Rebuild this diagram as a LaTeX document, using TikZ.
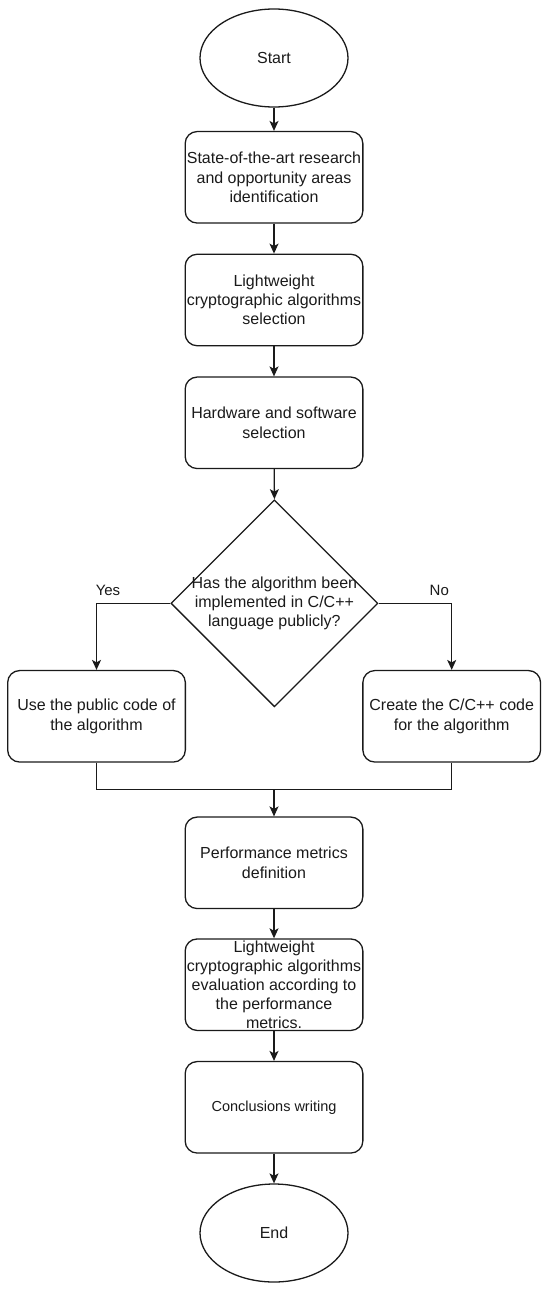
\documentclass[tikz,border=0pt]{standalone}
\usepackage{fontspec}
\setmainfont{Liberation Sans}
\usetikzlibrary{shapes.geometric,arrows.meta}
\definecolor{ln}{HTML}{1A1A1A}
\tikzset{
  base/.style={draw=ln, line width=1.3pt, inner sep=0pt, align=center, text=ln,
    font=\fontsize{16}{19.2}\selectfont},
  procbox/.style={base, rectangle, rounded corners=12pt, minimum width=177.7pt, minimum height=91.5pt},
  term/.style={base, ellipse, minimum width=148pt, minimum height=98pt},
  decis/.style={base, diamond, minimum width=207pt, minimum height=207pt},
  plain/.style={inner sep=0pt, align=center, text=ln, font=\fontsize{16}{19}\selectfont},
  conn/.style={draw=ln, line width=1.3pt},
  arr/.style={conn, -{Stealth[length=10pt,width=9pt,inset=2.5pt]}},
}
\begin{document}
\begin{tikzpicture}[x=1pt,y=-1pt]
\useasboundingbox (0,0) rectangle (550,1290);
\node[term] (start) at (274,58) {Start};
\node[procbox] (b1) at (274,177.3) {State-of-the-art research\\and opportunity areas\\identification};
\node[procbox] (b2) at (274,300) {Lightweight\\cryptographic algorithms\\selection};
\node[procbox] (b3) at (274,422.8) {Hardware and software\\selection};
\node[decis] (d) at (274.4,603.3) {};
\node[plain] (dt) at (d.center) {Has the algorithm been\\implemented in C/C++\\language publicly?};
\node[procbox] (lb) at (96.5,716.3) {Use the public code of\\the algorithm};
\node[procbox] (rb) at (451.7,716.3) {Create the C/C++ code\\for the algorithm};
\coordinate (m) at (274,789.3);
\node[procbox] (b4) at (274,862.8) {Performance metrics\\definition};
\node[procbox, font=\fontsize{16}{19}\selectfont] (b5) at (274,984.7) {Lightweight\\cryptographic algorithms\\evaluation according to\\the performance\\metrics.};
\node[procbox, font=\fontsize{14.5}{17.4}\selectfont] (b6) at (274,1107.3) {Conclusions writing};
\node[term] (end) at (274,1233) {End};
\node[plain, font=\fontsize{15}{18}\selectfont] (yes) at (108,590.7) {Yes};
\node[plain, font=\fontsize{15}{18}\selectfont] (no) at (439.3,590.7) {No};

\draw[arr] (start) -- (b1);
\draw[arr] (b1) -- (b2);
\draw[arr] (b2) -- (b3);
\draw[arr] (b3) -- (d.north);
\draw[arr] (d.west) -| (lb.north);
\draw[arr] (d.east) -| (rb.north);
\draw[conn] (lb.south) |- (m) -| (rb.south);
\draw[arr] (m) -- (b4);
\draw[arr] (b4) -- (b5);
\draw[arr] (b5) -- (b6);
\draw[arr] (b6) -- (end);
\end{tikzpicture}
\end{document}
